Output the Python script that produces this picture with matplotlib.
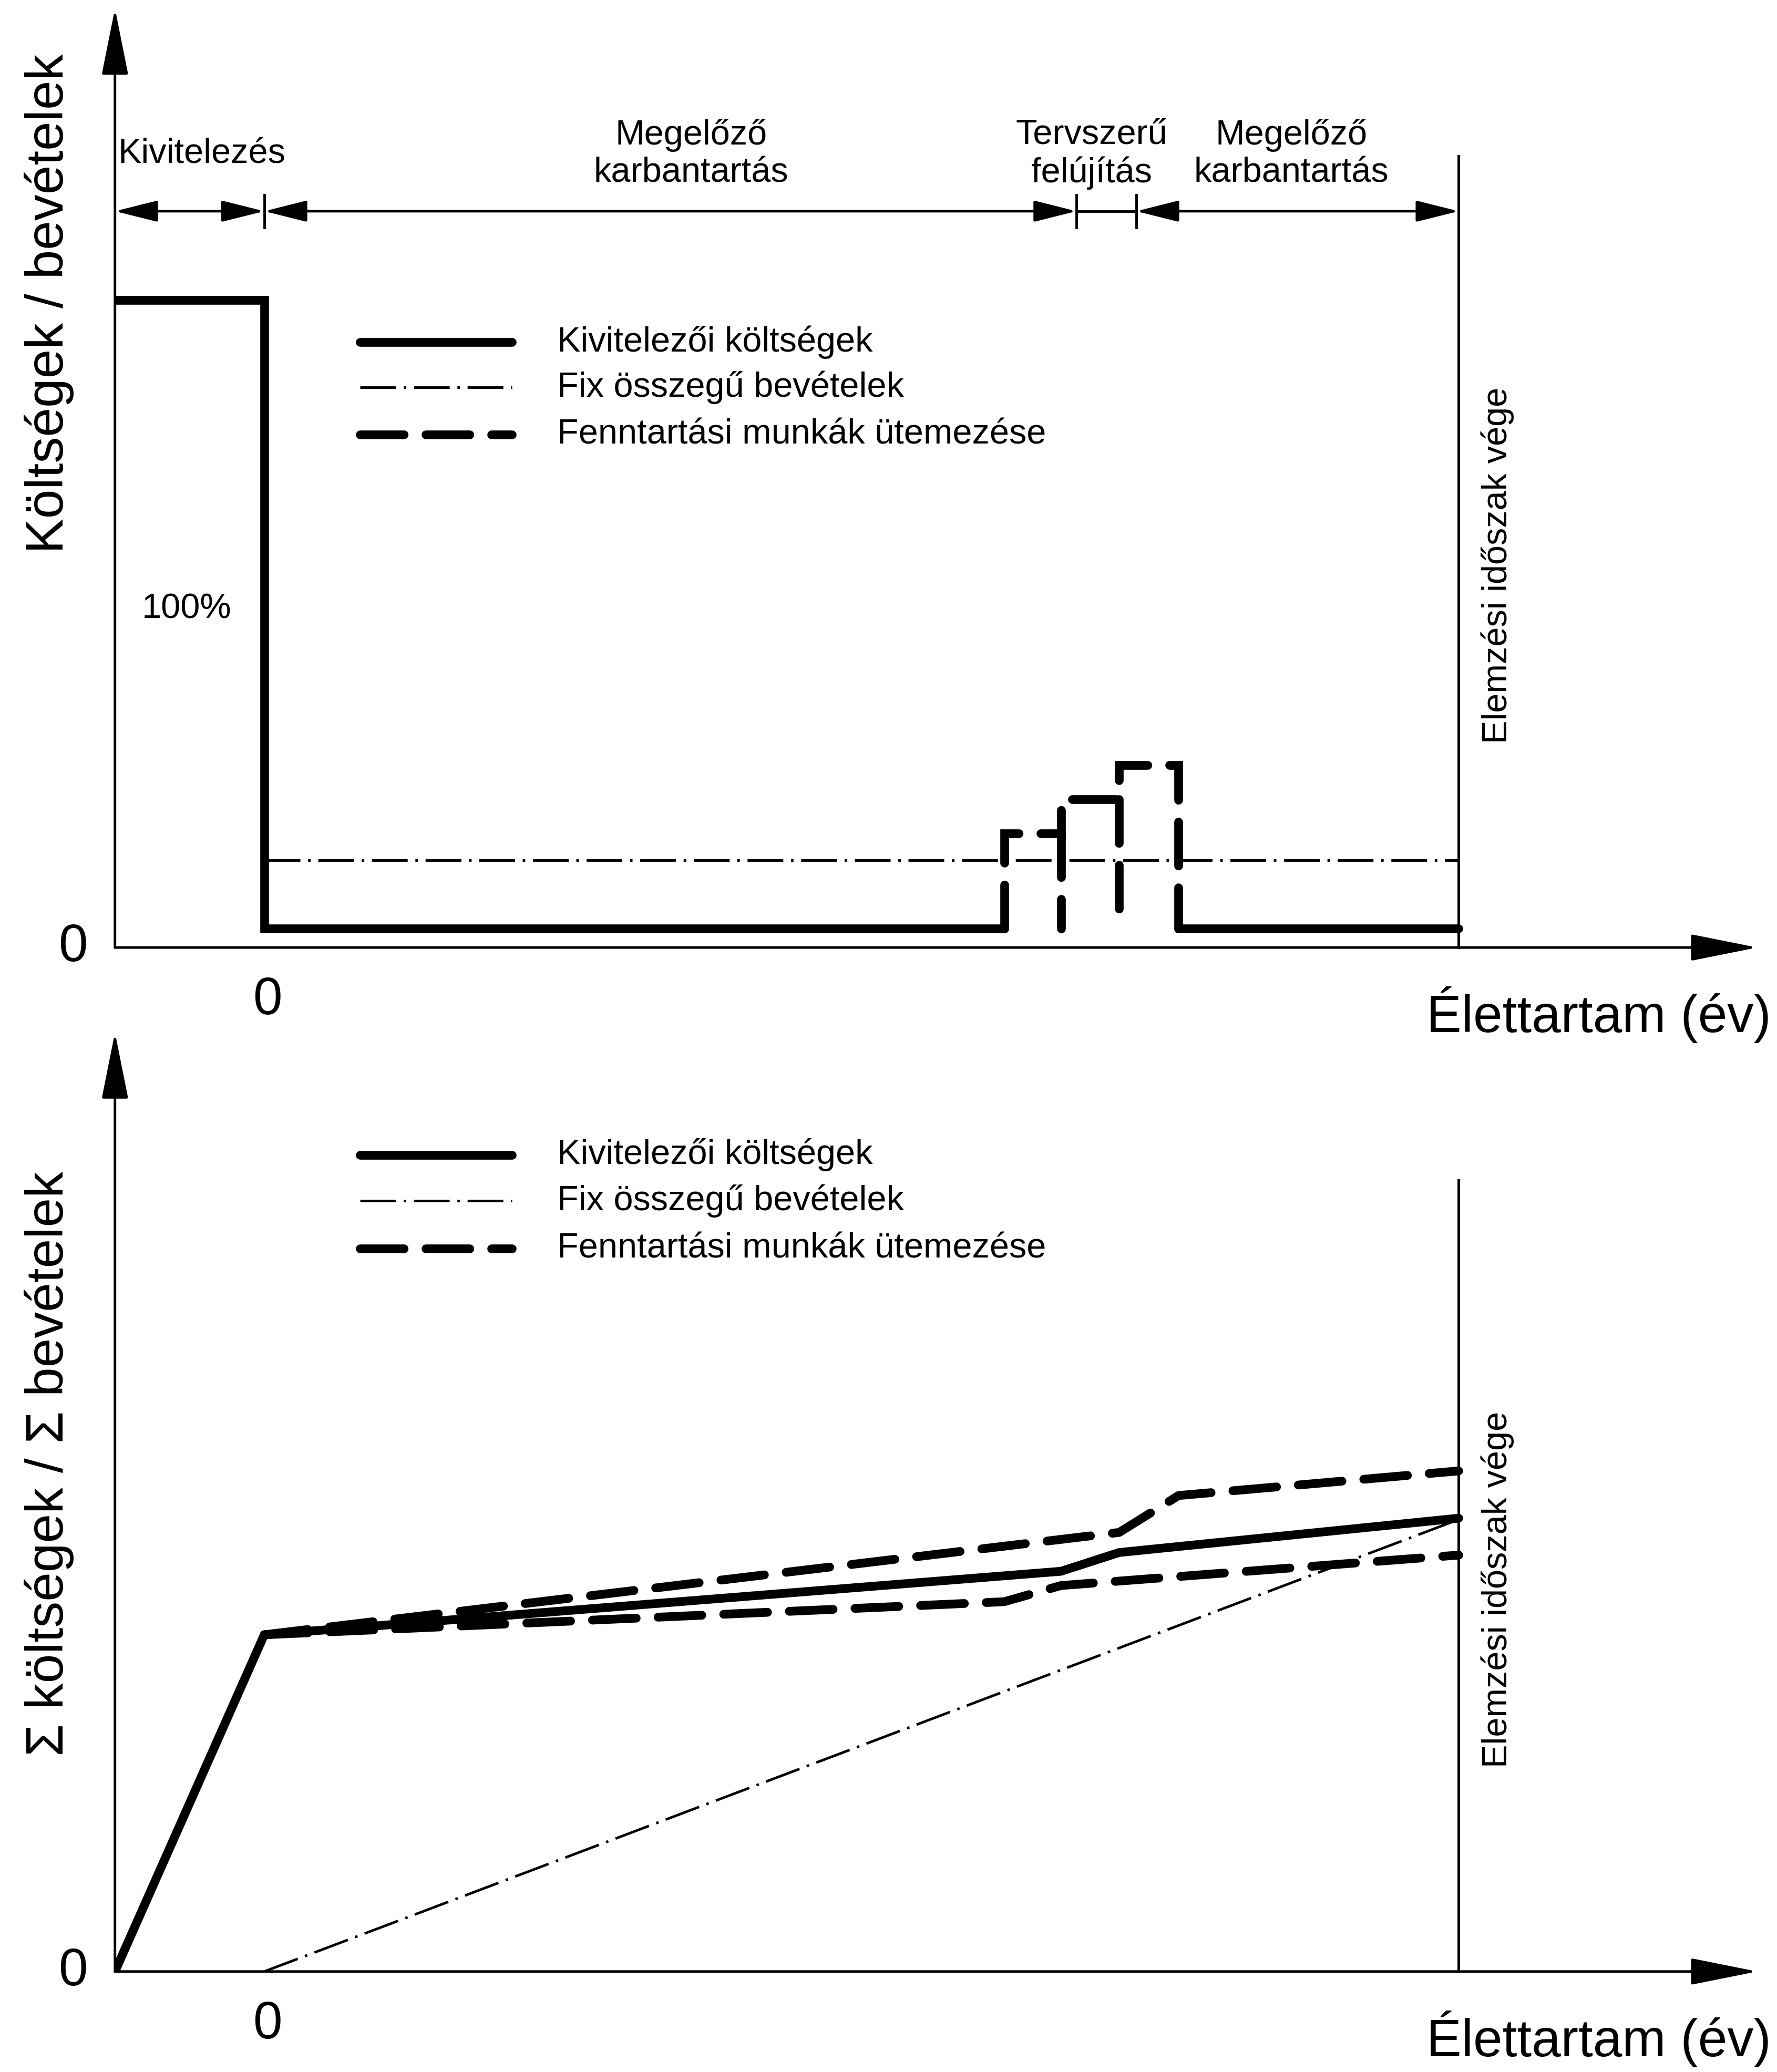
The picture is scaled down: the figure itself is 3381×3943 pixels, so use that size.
import matplotlib
matplotlib.use("Agg")
import matplotlib.pyplot as plt

plt.rcParams["font.family"] = ["Liberation Sans", "DejaVu Sans"]

# x: years (0 = handover), y: relative cost (%)
# phase boundaries on the header line
phase_ticks = [0, 27.2, 29.2]
end_year = 40
phase_labels = ["Kivitelezés", "Megelőző\nkarbantartás", "Tervszerű\nfelújítás", "Megelőző\nkarbantartás"]
phase_label_x = [-2.1, 14.3, 27.7, 34.4]

legend_labels = ["Kivitelezői költségek", "Fix összegű bevételek", "Fenntartási munkák ütemezése"]

# upper chart: yearly costs / revenues
constr_x = [-5, 0, 0, 24.78]
constr_y = [100, 100, 2.9, 2.9]
after_x = [30.62, 40]
after_y = [2.9, 2.9]
maint_x = [24.78, 24.78, 26.68, 26.68, 28.63, 28.63, 30.62, 30.62]
maint_y = [2.9, 17.6, 17.6, 22.9, 22.9, 28.2, 28.2, 2.9]
maint_drop_x = [26.68, 28.63]
maint_drop_top = [17.6, 22.9]
revenue_x = [0, 40]
revenue_y = [13.5, 13.5]

# lower chart: cumulative costs / revenues
cum_cost_x = [-5, 0, 26.68, 28.63, 40]
cum_cost_y = [0, 52.0, 61.8, 64.7, 70.0]
cum_high_x = [0, 28.63, 30.62, 40]
cum_high_y = [52.0, 67.8, 73.5, 77.3]
cum_low_x = [0, 24.78, 26.68, 40]
cum_low_y = [52.0, 57.1, 59.6, 64.3]
cum_rev_x = [0, 40]
cum_rev_y = [0, 69.8]

BIG = 72
SMALL = 48
LW_THICK = 12
LW_AX = 3.5
DASH = (5, 2.5)
DASHDOT = (14, 3, 1, 3)

fig = plt.figure(figsize=(33.81, 39.43), dpi=100)
ax1 = fig.add_axes([0.0647, 0.5427, 0.9242, 0.4532])
ax2 = fig.add_axes([0.0647, 0.0485, 0.9242, 0.4532])


def frame(ax, ylabel, ylabel_y, legend_y):
    ax.set_xlim(-5, 50)
    ax.set_ylim(0, 145)
    ax.axis("off")
    big_arrow = dict(arrowstyle="-|>,head_length=0.8,head_width=0.16", lw=LW_AX,
                     color="k", mutation_scale=100, shrinkA=0, shrinkB=0)
    ax.annotate("", xy=(50, 0), xytext=(-5, 0), arrowprops=big_arrow, annotation_clip=False)
    ax.annotate("", xy=(-5, 145), xytext=(-5, 0), arrowprops=big_arrow, annotation_clip=False)
    ax.text(-6.4, 0, "0", fontsize=BIG, ha="center", va="center")
    ax.text(0.1, -8.2, "0", fontsize=BIG, ha="center", va="center")
    ax.text(44.7, -10.4, "Élettartam (év)", fontsize=BIG, ha="center", va="center")
    ax.text(-7.2, ylabel_y, ylabel, fontsize=BIG, rotation=90, ha="center", va="center")
    # end of analysis period
    ax.plot([end_year, end_year], [0, 122.2], color="k", lw=LW_AX, clip_on=False)
    ax.text(41.3, 59, "Elemzési időszak vége", fontsize=SMALL, rotation=90,
            ha="center", va="center")
    # legend drawn by hand
    hx = [3.2, 8.3]
    ax.plot(hx, [legend_y[0]] * 2, color="k", lw=LW_THICK, solid_capstyle="round")
    ax.plot(hx, [legend_y[1]] * 2, color="k", lw=LW_AX, dashes=DASHDOT)
    ax.plot(hx, [legend_y[2]] * 2, color="k", lw=LW_THICK, dashes=DASH,
            dash_capstyle="round")
    for yy, lab in zip(legend_y, legend_labels):
        ax.text(9.8, yy, lab, fontsize=SMALL, ha="left", va="center")


frame(ax1, "Költségek / bevételek", 99.4, [93.5, 86.5, 79.2])
frame(ax2, "Σ költségek / Σ bevételek", 78.4, [126.1, 119.0, 111.6])

# header with phase arrows (upper chart)
hy = 113.7
small_arrow = "<|-|>,head_length=1.0,head_width=0.25"
bounds = [(-5, 0), (0, phase_ticks[1]), (phase_ticks[2], end_year)]
for a, b in bounds:
    ax1.annotate("", xy=(b, hy), xytext=(a, hy), annotation_clip=False,
                 arrowprops=dict(arrowstyle=small_arrow, lw=LW_AX, color="k",
                                 mutation_scale=50, shrinkA=0, shrinkB=0))
ax1.plot([phase_ticks[1], phase_ticks[2]], [hy, hy], color="k", lw=LW_AX)
for t in phase_ticks:
    ax1.plot([t, t], [hy - 2.5, hy + 2.5], color="k", lw=LW_AX)
for tx, lab in zip(phase_label_x, phase_labels):
    ax1.text(tx, 122.5, lab, fontsize=SMALL, ha="center", va="center", linespacing=1.2)

ax1.text(-2.6, 52.2, "100%", fontsize=SMALL, ha="center", va="center")

# upper chart lines
ax1.plot(constr_x, constr_y, color="k", lw=LW_THICK, solid_capstyle="round",
         solid_joinstyle="miter")
ax1.plot(after_x, after_y, color="k", lw=LW_THICK, solid_capstyle="round")
ax1.plot(maint_x, maint_y, color="k", lw=LW_THICK, dashes=DASH,
         dash_capstyle="round", dash_joinstyle="miter")
for xx, top in zip(maint_drop_x, maint_drop_top):
    ax1.plot([xx, xx], [top, 2.9], color="k", lw=LW_THICK, dashes=DASH,
             dash_capstyle="round")
ax1.plot(revenue_x, revenue_y, color="k", lw=LW_AX, dashes=DASHDOT)

# lower chart lines
ax2.plot(cum_cost_x, cum_cost_y, color="k", lw=LW_THICK, solid_capstyle="round",
         solid_joinstyle="round")
ax2.plot(cum_high_x, cum_high_y, color="k", lw=LW_THICK, dashes=DASH,
         dash_capstyle="round")
ax2.plot(cum_low_x, cum_low_y, color="k", lw=LW_THICK, dashes=DASH,
         dash_capstyle="round")
ax2.plot(cum_rev_x, cum_rev_y, color="k", lw=LW_AX, dashes=DASHDOT)

fig.savefig("out.png", dpi=100, facecolor="white")
